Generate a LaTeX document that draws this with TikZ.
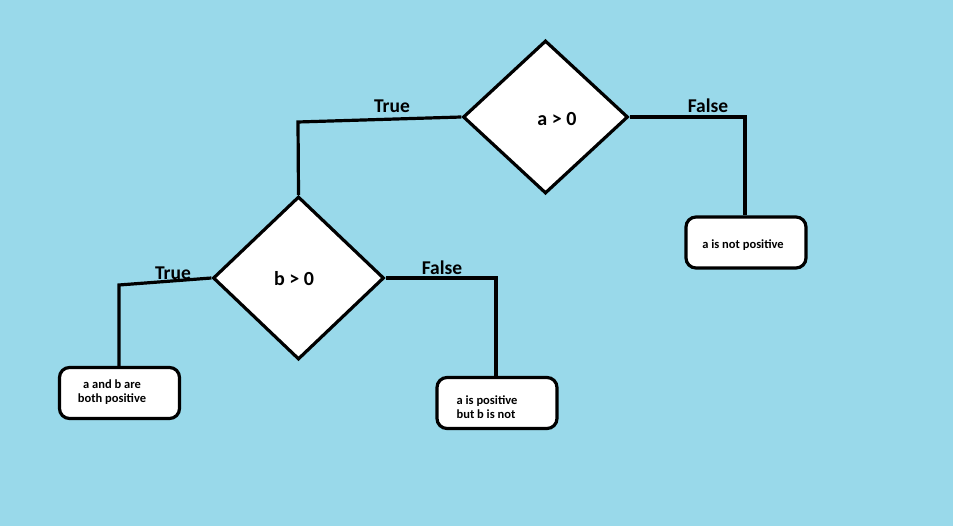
\documentclass[tikz,border=0pt]{standalone}
\usepackage{fontspec}
\setmainfont{Carlito}
\usetikzlibrary{shapes.geometric}
\definecolor{bg}{HTML}{99D9EA}
\begin{document}
\begin{tikzpicture}[x=1pt,y=-1pt,
  line width=3.2pt,
  decision/.style={diamond, draw=black, fill=white, inner sep=0pt, line width=3.2pt},
  endbox/.style={rectangle, rounded corners=10pt, draw=black, fill=white, inner sep=0pt, minimum width=120pt, minimum height=51pt, line width=3.2pt},
  boxtext/.style={font=\bfseries\fontsize{12.5}{14}\selectfont, align=center, inner sep=0pt},
  edgelabel/.style={font=\bfseries\fontsize{19.5}{22}\selectfont, inner sep=0pt},
  condtext/.style={font=\bfseries\fontsize{20}{22}\selectfont, inner sep=0pt}]
\fill[bg] (0,0) rectangle (953,526);
\useasboundingbox (0,0) rectangle (953,526);

% decisions
\node[decision, minimum width=165pt, minimum height=153pt] (a) at (545.5,117) {};
\node[condtext] (atext) at (557,119) {a > 0};
\node[decision, minimum width=171pt, minimum height=163pt] (b) at (298.5,278) {};
\node[condtext] (btext) at (294,279) {b > 0};

% end boxes
\node[endbox] (c) at (746,242.5) {};
\node[boxtext] (ctext) at (743,245) {a is not positive};
\node[endbox] (d) at (119.5,393) {};
\node[boxtext] (dtext) at (112,392) {a and b are\\both positive};
\node[endbox] (e) at (497,403) {};
\node[boxtext, align=left] (etext) at (487,407) {a is positive\\but b is not};

% turning points
\coordinate (t1) at (298,122);
\coordinate (f1) at (745,117);
\coordinate (t2) at (119,285);
\coordinate (f2) at (496,278);

% connectors
\draw (a.west) -- (t1) -- (b.north);
\draw (a.east) -- (f1) -- (c.north -| f1);
\draw (b.west) -- (t2) -- (d.north -| t2);
\draw (b.east) -- (f2) -- (e.north -| f2);

% edge labels
\node[edgelabel] (lt1) at (392,106) {True};
\node[edgelabel] (lf1) at (708,106) {False};
\node[edgelabel] (lt2) at (173,273) {True};
\node[edgelabel] (lf2) at (442,268) {False};
\end{tikzpicture}
\end{document}
